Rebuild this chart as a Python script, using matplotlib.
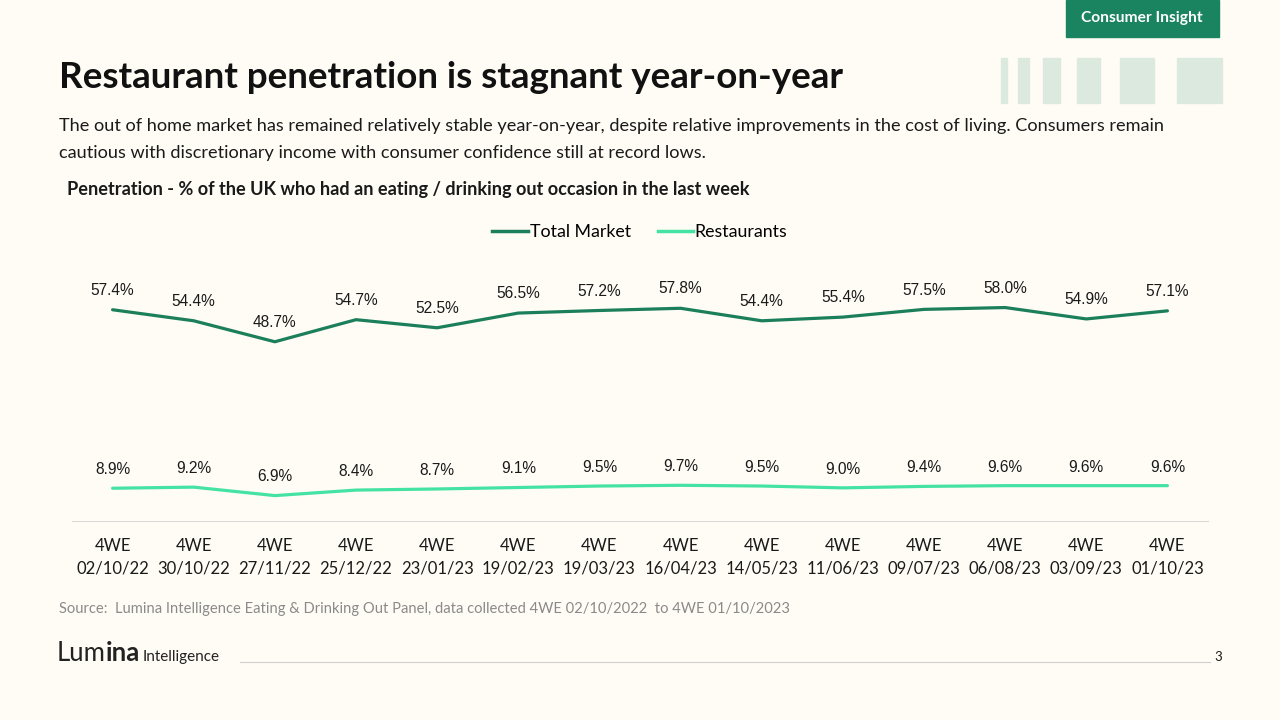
import matplotlib.pyplot as plt
from matplotlib.patches import Rectangle
from matplotlib.lines import Line2D

plt.rcParams['font.family'] = ['Lato', 'DejaVu Sans']

# data
periods = ['02/10/22', '30/10/22', '27/11/22', '25/12/22', '23/01/23', '19/02/23', '19/03/23',
           '16/04/23', '14/05/23', '11/06/23', '09/07/23', '06/08/23', '03/09/23', '01/10/23']
total_market = [57.4, 54.4, 48.7, 54.7, 52.5, 56.5, 57.2, 57.8, 54.4, 55.4, 57.5, 58.0, 54.9, 57.1]
restaurants = [8.9, 9.2, 6.9, 8.4, 8.7, 9.1, 9.5, 9.7, 9.5, 9.0, 9.4, 9.6, 9.6, 9.6]
tick_labels = ['4WE\n' + p for p in periods]

bg = '#FFFCF5'
dark_green = '#1B7F5B'
light_green = '#45E3A3'
txt = '#1A1A1A'

fig = plt.figure(figsize=(12.8, 7.2), dpi=100, facecolor=bg)

ax = fig.add_axes([0.05625, 0.2764, 0.8875, 0.3578])
ax.set_facecolor(bg)
x = list(range(len(periods)))
ax.plot(x, total_market, color=dark_green, lw=2.3, solid_capstyle='round')
ax.plot(x, restaurants, color=light_green, lw=2.3, solid_capstyle='round')
for xi, v in zip(x, total_market):
    ax.annotate(f'{v:.1f}%', (xi, v), xytext=(0, 8.5), textcoords='offset points',
                ha='center', va='bottom', fontsize=11.2, color=txt, family=['Liberation Sans'])
for xi, v in zip(x, restaurants):
    ax.annotate(f'{v:.1f}%', (xi, v), xytext=(0, 8), textcoords='offset points',
                ha='center', va='bottom', fontsize=11.2, color=txt, family=['Liberation Sans'])
ax.set_xlim(-0.5, len(periods) - 0.5)
ax.set_ylim(0, 70)
ax.set_yticks([])
ax.set_xticks(x)
ax.set_xticklabels(tick_labels, fontsize=12, color=txt, linespacing=1.45)
ax.tick_params(axis='x', length=0, pad=12.5)
for s in ['top', 'right', 'left']:
    ax.spines[s].set_visible(False)
ax.spines['bottom'].set_color('#D9D9D9')

# legend
handles = [Line2D([], [], color=dark_green, lw=2.5), Line2D([], [], color=light_green, lw=2.5)]
fig.legend(handles, ['Total Market', 'Restaurants'], loc='center', bbox_to_anchor=(0.5, 1 - 232 / 720),
           ncol=2, frameon=False, fontsize=12.8, handlelength=2.0, handletextpad=0.1, columnspacing=1.5)

# titles
fig.text(59 / 1280, 1 - 77 / 720, 'Restaurant penetration is stagnant year-on-year',
         fontsize=26.5, fontweight='bold', color='#111111', va='center')
fig.text(59 / 1280, 1 - 126 / 720,
         'The out of home market has remained relatively stable year-on-year, despite relative improvements in the cost of living. Consumers remain',
         fontsize=13.1, color=txt, va='center')
fig.text(59 / 1280, 1 - 153 / 720,
         'cautious with discretionary income with consumer confidence still at record lows.',
         fontsize=13.1, color=txt, va='center')
fig.text(67 / 1280, 1 - 190 / 720,
         'Penetration - % of the UK who had an eating / drinking out occasion in the last week',
         fontsize=13.1, fontweight='bold', color=txt, va='center')

# badge
fig.patches.append(Rectangle((1066 / 1280, 1 - 37 / 720), 153 / 1280, 37 / 720,
                             transform=fig.transFigure, color='#1A8460'))
fig.text(1142 / 1280, 1 - 18 / 720, 'Consumer Insight', fontsize=11.2, fontweight='bold',
         color='white', ha='center', va='center')

# decorative bars
for x0, x1 in [(1001, 1007), (1018, 1029), (1043, 1060), (1077, 1100), (1120, 1154), (1177, 1222)]:
    fig.patches.append(Rectangle((x0 / 1280, 1 - 103 / 720), (x1 - x0) / 1280, 45 / 720,
                                 transform=fig.transFigure, color='#DCE9DF'))

# footer
fig.text(59 / 1280, 1 - 609 / 720,
         'Source:  Lumina Intelligence Eating & Drinking Out Panel, data collected 4WE 02/10/2022  to 4WE 01/10/2023',
         fontsize=10.6, color='#8A8A8A', va='center')
fig.add_artist(Line2D([240 / 1280, 1210 / 1280], [1 - 662 / 720, 1 - 662 / 720],
                      transform=fig.transFigure, color='#CFCFCF', lw=0.8))
fig.text(1218 / 1280, 1 - 657 / 720, '3', fontsize=9.5, color=txt, ha='center', va='center')

# logo: place pieces next to each other using measured widths
r = fig.canvas.get_renderer()
t1 = fig.text(57 / 1280, 1 - 661 / 720, 'Lum', fontsize=18.5, fontweight='normal', color='#222222', va='baseline')
w1 = t1.get_window_extent(r).width
t2 = fig.text((57 + w1) / 1280, 1 - 661 / 720, 'ina', fontsize=18.5, fontweight='bold', color='#222222', va='baseline')
w2 = t2.get_window_extent(r).width
fig.text((57 + w1 + w2 + 3) / 1280, 1 - 661 / 720, 'Intelligence', fontsize=11, color='#222222', va='baseline')

fig.savefig('out.png', dpi=100, facecolor=bg)
